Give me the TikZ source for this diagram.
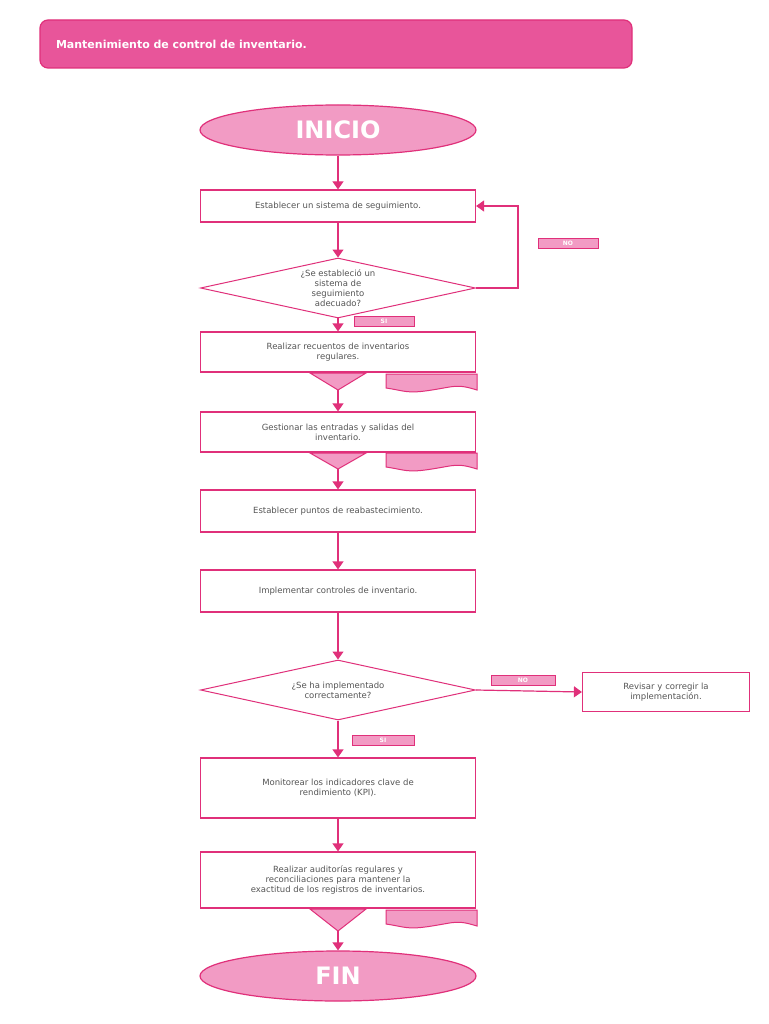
\documentclass[tikz,border=0pt]{standalone}
\usepackage{fontspec}
\setmainfont{DejaVu Sans}
\usetikzlibrary{shapes.geometric,arrows.meta}
\definecolor{lnc}{HTML}{E0307A}
\definecolor{hdr}{HTML}{E8559A}
\definecolor{lpk}{HTML}{F29BC4}
\definecolor{txt}{HTML}{555555}
\tikzset{
  box/.style={draw=lnc,line width=1.2pt,fill=white,minimum width=275pt,text width=250pt,align=center,font=\fontsize{8.5}{10}\selectfont,text=txt,inner sep=2pt},
  dia/.style={diamond,draw=lnc,line width=1pt,fill=white,minimum width=275pt,minimum height=60pt,aspect=4.6,inner sep=0pt,align=center,font=\fontsize{8.5}{10}\selectfont,text=txt},
  term/.style={ellipse,draw=lnc,line width=1.2pt,fill=lpk,minimum width=276pt,minimum height=50pt,text=white,font=\bfseries\fontsize{24}{28}\selectfont},
  lab/.style={draw=lnc,line width=1pt,fill=lpk,text=white,font=\bfseries\fontsize{6}{7}\selectfont,minimum height=10pt,inner sep=0pt},
  arr/.style={draw=lnc,line width=1.2pt,-{Triangle[length=8pt,width=11pt]}},
  tri/.style={draw=lnc,line width=1pt,fill=lpk},
}
\newcommand{\docshape}[2]{% x y top-left
  \filldraw[draw=lnc,line width=1pt,fill=lpk] (#1,#2) -- ++(91,0) -- ++(0,16)
   .. controls ++(-20,-6) and ++(25,-4) .. ++(-45,0)
   .. controls ++(-25,4) and ++(20,3) .. ++(-46,-2) -- cycle;}
\begin{document}
\begin{tikzpicture}[x=1pt,y=-1pt]
\useasboundingbox (0,0) rectangle (768,1024);
\fill[white] (0,0) rectangle (768,1024);
\node[draw=lnc,line width=1.2pt,fill=hdr,rounded corners=8pt,minimum width=592pt,minimum height=48pt,text=white,font=\bfseries\fontsize{11}{13}\selectfont,text width=560pt,align=left] (hd) at (336,44) {Mantenimiento de control de inventario.};
\node[term] (ini) at (338,130) {INICIO};
\node[box,minimum height=32pt] (b1) at (338,206) {Establecer un sistema de seguimiento.};
\node[dia] (d1) at (338,288) {¿Se estableció un\\sistema de\\seguimiento\\adecuado?};
\node[box,minimum height=40pt] (b2) at (338,352) {Realizar recuentos de inventarios\\regulares.};
\node[box,minimum height=40pt] (b3) at (338,432) {Gestionar las entradas y salidas del\\inventario.};
\node[box,minimum height=42pt] (b4) at (338,511) {Establecer puntos de reabastecimiento.};
\node[box,minimum height=42pt] (b5) at (338,591) {Implementar controles de inventario.};
\node[dia] (d2) at (338,690) {¿Se ha implementado\\correctamente?};
\node[box,minimum width=167pt,text width=150pt,minimum height=39pt] (b6) at (666,692) {Revisar y corregir la\\implementación.};
\node[box,minimum height=60pt] (b7) at (338,788) {Monitorear los indicadores clave de\\rendimiento (KPI).};
\node[box,minimum height=56pt] (b8) at (338,880) {Realizar auditorías regulares y\\reconciliaciones para mantener la\\exactitud de los registros de inventarios.};
\node[term] (fin) at (338,976) {FIN};
% labels
\node[lab,minimum width=60pt] (no1) at (568,243) {NO};
\node[lab,minimum width=60pt] (si1) at (384,321) {SI};
\node[lab,minimum width=64pt] (no2) at (523,680) {NO};
\node[lab,minimum width=62pt] (si2) at (383,740) {SI};
% triangles
\coordinate (t2) at (338,390);
\coordinate (t3) at (338,469);
\coordinate (t8) at (338,931);
\filldraw[tri] (310,373) -- (366,373) -- (t2) -- cycle;
\filldraw[tri] (310,453) -- (366,453) -- (t3) -- cycle;
\filldraw[tri] (310,909) -- (366,909) -- (t8) -- cycle;
\docshape{386}{374}
\docshape{386}{453}
\docshape{386}{910}
% connectors
\draw[arr] (ini) -- (b1);
\draw[arr] (b1) -- (d1);
\draw[arr] (d1) -- (b2);
\draw[arr] (t2) -- (b3);
\draw[arr] (t3) -- (b4);
\draw[arr] (b4) -- (b5);
\draw[arr] (b5) -- (d2);
\draw[arr] (d2) -- (b7);
\draw[arr] (b7) -- (b8);
\draw[arr] (t8) -- (fin);
\draw[arr] (d1.east) -- (518,288) -- (518,206) -- (b1.east);
\draw[arr] (d2.east) -- (b6.west);
\end{tikzpicture}
\end{document}
